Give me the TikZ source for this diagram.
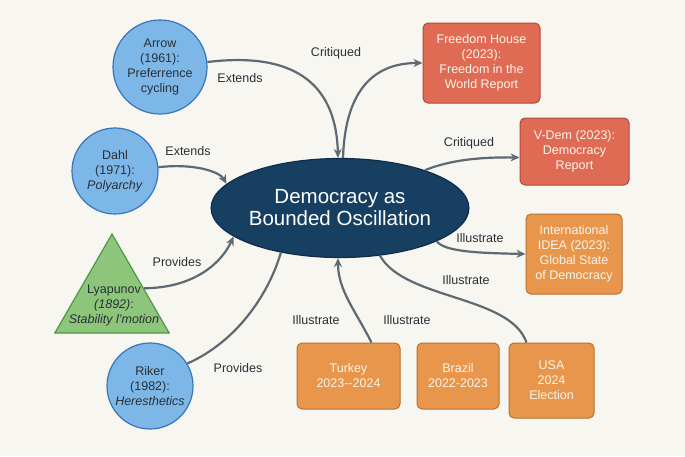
\documentclass[tikz,border=0pt]{standalone}
\usepackage{fontspec}
\setmainfont{Liberation Sans}
\usetikzlibrary{shapes.geometric,arrows.meta,calc}
\definecolor{bg}{HTML}{F8F6F1}
\definecolor{bluefill}{HTML}{7DB7E8}
\definecolor{blueline}{HTML}{3975BB}
\definecolor{greenfill}{HTML}{8DC67B}
\definecolor{greenline}{HTML}{4F9747}
\definecolor{mainfill}{HTML}{173F62}
\definecolor{mainline}{HTML}{0E2D48}
\definecolor{redfill}{HTML}{DF6B55}
\definecolor{redline}{HTML}{B5473A}
\definecolor{orangefill}{HTML}{E8964B}
\definecolor{orangeline}{HTML}{B9702F}
\definecolor{edgec}{HTML}{5E6A73}
\definecolor{labelc}{HTML}{2A2F36}
\definecolor{boxtext}{HTML}{FFF4EA}
\tikzset{
  src/.style={circle, draw=blueline, fill=bluefill, line width=1.2pt, inner sep=0pt, align=center, text=labelc},
  tri/.style={regular polygon, regular polygon sides=3, draw=greenline, fill=greenfill, line width=1.2pt, minimum size=132pt, inner sep=0pt},
  mainnode/.style={ellipse, draw=mainline, fill=mainfill, line width=1.2pt, minimum width=230pt, minimum height=99pt, inner sep=0pt, align=center, text=white, font=\fontsize{20.5}{22}\selectfont},
  redbox/.style={rectangle, rounded corners=5pt, draw=redline, fill=redfill, line width=1pt, inner sep=0pt, align=center, text=boxtext},
  orangebox/.style={rectangle, rounded corners=5pt, draw=orangeline, fill=orangefill, line width=1pt, inner sep=0pt, align=center, text=boxtext},
  conn/.style={draw=edgec, line width=2.2pt},
  connarr/.style={conn, -{Stealth[length=9pt,width=8pt]}},
  lbl/.style={text=labelc, inner sep=0pt}
}
\begin{document}
\begin{tikzpicture}[x=1pt, y=-1pt, font=\fontsize{12.5}{15}\selectfont]
\fill[bg] (0,0) rectangle (685,456);
\useasboundingbox (0,0) rectangle (685,456);

% sources
\node[src, minimum size=94pt] (arrow) at (160,67) {Arrow\\(1961):\\Preferrence\\cycling};
\node[src, minimum size=86pt] (dahl) at (115,171) {Dahl\\(1971):\\\textit{Polyarchy}};
\node[tri] (lyap) at (112,300) {};
\node[align=center, text=labelc, inner sep=0pt] (lyapt) at (114,305) {Lyapunov\\\textit{(1892)}:\\\textit{Stability l’motion}};
\node[src, minimum size=86pt] (riker) at (150,386) {Riker\\(1982):\\\textit{Heresthetics}};

% centre
\node[mainnode] (main) at (340,208) {Democracy as\\Bounded Oscillation};

% right boxes
\node[redbox, minimum width=117pt, minimum height=80pt] (fh) at (481.5,63) {Freedom House\\(2023):\\Freedom in the\\World Report};
\node[redbox, minimum width=109pt, minimum height=67pt] (vdem) at (574.5,151.5) {V-Dem (2023):\\Democracy\\Report};
\node[orangebox, minimum width=96pt, minimum height=80pt] (idea) at (574,254) {International\\IDEA (2023):\\Global State\\of Democracy};
\node[orangebox, minimum width=103pt, minimum height=66pt] (turkey) at (348.5,376) {Turkey\\2023-{}-2024};
\node[orangebox, minimum width=82pt, minimum height=66pt] (brazil) at (458,376) {Brazil\\2022-2023};
\node[orangebox, minimum width=85pt, minimum height=75pt] (usa) at (551.5,380.5) {USA\\2024\\Election};

% connectors
\draw[connarr] (arrow.6) .. controls (290,52) and (336,80) .. ([xshift=-2pt]main.north);
\draw[connarr] ([xshift=3pt]main.north) .. controls (345,95) and (370,63) .. (fh.west);
\draw[connarr] (dahl.5) .. controls (195,163) and (220,172) .. (main.168);
\draw[connarr] ($(lyap.corner 1)!0.55!(lyap.corner 3)$) .. controls (195,288) and (222,262) .. (main.195);
\draw[conn] (riker.31) .. controls (240,340) and (270,290) .. (main.217);
\draw[connarr] (main.24) .. controls (450,160) and (480,157) .. ([yshift=-6pt]vdem.west);
\draw[connarr] (main.-19) .. controls (445,252) and (480,253) .. (idea.west);
\draw[connarr] ([xshift=23pt]turkey.north) .. controls (355,310) and (338,290) .. ([xshift=-2pt]main.south);
\draw[conn] (main.-50) .. controls (405,300) and (510,295) .. ([xshift=-25pt]usa.north);

% labels
\node[lbl] (l1) at (336,53) {Critiqued};
\node[lbl] (l2) at (240,78) {Extends};
\node[lbl] (l3) at (188,151) {Extends};
\node[lbl] (l4) at (177,262) {Provides};
\node[lbl] (l5) at (238,368) {Provides};
\node[lbl] (l6) at (316,320) {Illustrate};
\node[lbl] (l7) at (407,320) {Illustrate};
\node[lbl] (l8) at (469,143) {Critiqued};
\node[lbl] (l9) at (480,238) {Illustrate};
\node[lbl] (l10) at (466,280) {Illustrate};
\end{tikzpicture}
\end{document}
